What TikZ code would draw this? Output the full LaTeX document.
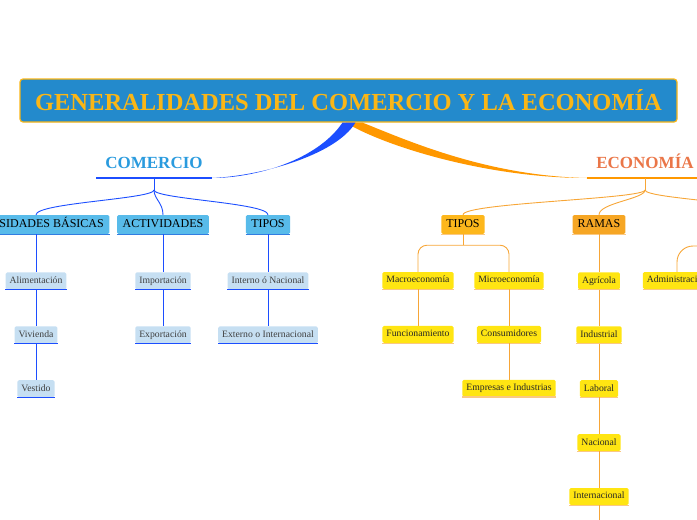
\documentclass[tikz,border=0pt]{standalone}
\usepackage{fontspec}
\setmainfont{Liberation Serif}
\usetikzlibrary{positioning}

\definecolor{titlebg}{RGB}{35,138,204}
\definecolor{titlegold}{RGB}{250,182,22}
\definecolor{comtext}{RGB}{42,155,222}
\definecolor{comline}{RGB}{28,78,255}
\definecolor{combox}{RGB}{88,187,234}
\definecolor{comunder}{RGB}{50,125,225}
\definecolor{comlight}{RGB}{198,223,242}
\definecolor{ecotext}{RGB}{234,118,72}
\definecolor{ecoline}{RGB}{255,152,0}
\definecolor{ecothin}{RGB}{247,166,55}
\definecolor{ecotipo}{RGB}{253,183,28}
\definecolor{ecorama}{RGB}{246,166,36}
\definecolor{ecoyel}{RGB}{255,229,18}
\definecolor{ecounder}{RGB}{250,200,130}

\begin{document}
\begin{tikzpicture}[x=1pt, y=-1pt, node distance=36.5pt,
	n_title/.style={
		rectangle,
		fill=titlebg,
		draw=titlegold,
		line width=1.2pt,
		rounded corners=3pt,
		minimum width=657pt,
		minimum height=43pt,
		inner sep=0pt,
		text=titlegold,
		font=\fontsize{24.5}{28}\selectfont\bfseries,
		},
	n_main/.style={
		inner xsep=9pt,
		inner ysep=9.5pt,
		font=\fontsize{17}{20}\selectfont\bfseries,
		append after command={(\tikzlastnode.south west) edge[draw=#1, line width=1.1pt] (\tikzlastnode.south east)},
		},
	n_com2/.style={
		rectangle,
		fill=combox,
		rounded corners=1.5pt,
		minimum height=19pt,
		inner xsep=5.5pt,
		inner ysep=0pt,
		text height=8.5pt,
		text depth=2.5pt,
		font=\fontsize{12}{14}\selectfont,
		append after command={(\tikzlastnode.south west) edge[draw=comunder, line width=1pt] (\tikzlastnode.south east)},
		},
	n_com3/.style={
		rectangle,
		fill=comlight,
		rounded corners=1.5pt,
		minimum height=17pt,
		inner xsep=4pt,
		inner ysep=0pt,
		text height=6.8pt,
		text depth=2pt,
		text=black!75,
		font=\fontsize{9.7}{11}\selectfont,
		append after command={(\tikzlastnode.south west) edge[draw=comline, line width=1pt] (\tikzlastnode.south east)},
		},
	n_eco2/.style={
		rectangle,
		fill=#1,
		rounded corners=1.5pt,
		minimum height=19pt,
		inner xsep=5pt,
		inner ysep=0pt,
		text height=8.5pt,
		text depth=2.5pt,
		font=\fontsize{12}{14}\selectfont,
		append after command={(\tikzlastnode.south west) edge[draw=ecounder, line width=1.2pt] (\tikzlastnode.south east)},
		},
	n_eco3/.style={
		rectangle,
		fill=ecoyel,
		rounded corners=1.5pt,
		minimum height=17pt,
		inner xsep=4pt,
		inner ysep=0pt,
		text height=6.8pt,
		text depth=2pt,
		text=black!85,
		font=\fontsize{9.7}{11}\selectfont,
		append after command={(\tikzlastnode.south west) edge[draw=ecounder, line width=1.2pt] (\tikzlastnode.south east)},
		},
	l_bl/.style={draw=comline, line width=0.9pt},
	l_or/.style={draw=ecothin, line width=0.9pt},
	]

	\useasboundingbox (0,0) rectangle (697,520);
	\clip (0,0) rectangle (697,520);

	\node(gen)[n_title] at (348.5,100.5) {GENERALIDADES DEL COMERCIO Y LA ECONOMÍA};
	\node(com)[n_main=comline, text=comtext, anchor=south] at (154,178) {COMERCIO};
	\node(eco)[n_main=ecoline, text=ecotext, anchor=south] at (645,178) {ECONOMÍA};

	% main branches
	\fill[ecoline] ([xshift=-3pt]gen.south) .. controls +(40,24) and +(-100,0) .. (eco.south west)
		.. controls +(-100,-2) and +(45,18) .. ([xshift=14pt]gen.south) -- cycle;
	\fill[comline] ([xshift=-6pt]gen.south) .. controls +(-25,37) and +(45,0) .. (com.south east)
		.. controls +(48,-2) and +(-20,33) .. ([xshift=7pt]gen.south) -- cycle;

	% comercio
	\node(nec)[n_com2] at (36,224.5) {NECESIDADES BÁSICAS};
	\node(act)[n_com2] at (163,224.5) {ACTIVIDADES};
	\node(tip)[n_com2] at (268,224.5) {TIPOS};
	\node(alim)[n_com3, below=38pt of nec] {Alimentación};
	\node(viv)[n_com3, below=of alim] {Vivienda};
	\node(vest)[n_com3, below=of viv] {Vestido};
	\node(imp)[n_com3, below=38pt of act] {Importación};
	\node(expo)[n_com3, below=of imp] {Exportación};
	\node(inter)[n_com3, below=38pt of tip] {Interno ó Nacional};
	\node(exter)[n_com3, below=of inter] {Externo o Internacional};

	\draw[l_bl] (com.south) -- ++(0,12) coordinate(comj);
	\draw[l_bl] (comj) .. controls +(0,9) and +(0,-12) .. (nec.north);
	\draw[l_bl] (comj) .. controls +(0,9) and +(0,-12) .. (act.north);
	\draw[l_bl] (comj) .. controls +(0,9) and +(0,-12) .. (tip.north);
	\path (nec) edge[l_bl] (alim);
	\path (alim) edge[l_bl] (viv);
	\path (viv) edge[l_bl] (vest);
	\path (act) edge[l_bl] (imp);
	\path (imp) edge[l_bl] (expo);
	\path (tip) edge[l_bl] (inter);
	\path (inter) edge[l_bl] (exter);

	% economia
	\node(etip)[n_eco2=ecotipo] at (463,224.5) {TIPOS};
	\node(ram)[n_eco2=ecorama] at (599,224.5) {RAMAS};
	\coordinate(eoff) at (775,215);
	\node(mac)[n_eco3] at (418,280.5) {Macroeconomía};
	\node(fun)[n_eco3, below=of mac] {Funcionamiento};
	\node(mic)[n_eco3] at (509,280.5) {Microeconomía};
	\node(con)[n_eco3, below=of mic] {Consumidores};
	\node(emp)[n_eco3, below=of con] {Empresas e Industrias};
	\node(agr)[n_eco3, below=38pt of ram] {Agrícola};
	\node(ind)[n_eco3, below=of agr] {Industrial};
	\node(lab)[n_eco3, below=of ind] {Laboral};
	\node(nac)[n_eco3, below=of lab] {Nacional};
	\node(inte)[n_eco3, below=of nac] {Internacional};
	\coordinate(rbot) at (599,540);
	\node(adm)[n_eco3] at (677,280.5) {Administración};
	\coordinate(aj) at (745,246);

	\draw[l_or] (eco.south) -- ++(0,12) coordinate(ecoj);
	\draw[l_or] (ecoj) .. controls +(0,9) and +(0,-12) .. (etip.north);
	\draw[l_or] (ecoj) .. controls +(0,9) and +(0,-12) .. (ram.north);
	\draw[l_or] (ecoj) .. controls +(0,9) and +(0,-12) .. (eoff);
	\draw[l_or] (etip.south) -- ++(0,11) coordinate(etj);
	\draw[l_or, rounded corners=9pt] (etj) -| (mac.north);
	\draw[l_or, rounded corners=9pt] (etj) -| (mic.north);
	\draw[l_or, rounded corners=16pt] (aj) -| (adm.north);
	\path (mac) edge[l_or] (fun);
	\path (mic) edge[l_or] (con);
	\path (con) edge[l_or] (emp);
	\path (ram) edge[l_or] (agr);
	\path (agr) edge[l_or] (ind);
	\path (ind) edge[l_or] (lab);
	\path (lab) edge[l_or] (nac);
	\path (nac) edge[l_or] (inte);
	\path (inte) edge[l_or] (rbot);

\end{tikzpicture}
\end{document}
